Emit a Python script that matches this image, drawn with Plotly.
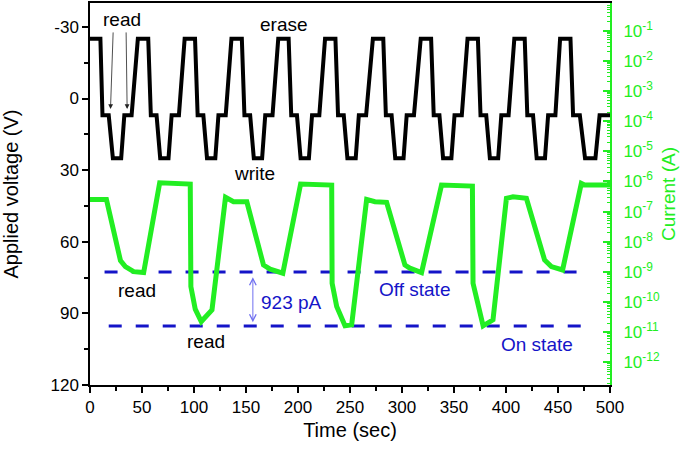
"""Applied voltage pulses and read current vs time (dual axis)."""

import plotly.graph_objects as go

# applied voltage waveform (V) vs time (sec)
time_v = [0, 10, 12, 18, 22, 30, 33, 40,
          46, 56, 58.5, 64, 67.5, 75.5, 78.5, 85.5,
          91, 101, 103.5, 109, 112.5, 120.5, 123.5, 130.5,
          136, 146, 148.5, 154, 157.5, 165.5, 168.5, 175.5,
          181, 191, 193.5, 199, 202.5, 210.5, 213.5, 220.5,
          226, 236, 238.5, 244, 247.5, 255.5, 258.5, 265.5,
          272, 282, 284.5, 290, 293.5, 301.5, 304.5, 311.5,
          318, 328, 330.5, 336, 339.5, 347.5, 350.5, 357.5,
          363, 373, 375.5, 381, 384.5, 392.5, 395.5, 402.5,
          408, 418, 420.5, 426, 429.5, 437.5, 440.5, 447.5,
          452, 462, 464.5, 471, 476, 486, 490, 500]
voltage = [-25, -25, 7, 7, 25, 25, 7, 7,
           -25, -25, 7, 7, 25, 25, 7, 7,
           -25, -25, 7, 7, 25, 25, 7, 7,
           -25, -25, 7, 7, 25, 25, 7, 7,
           -25, -25, 7, 7, 25, 25, 7, 7,
           -25, -25, 7, 7, 25, 25, 7, 7,
           -25, -25, 7, 7, 25, 25, 7, 7,
           -25, -25, 7, 7, 25, 25, 7, 7,
           -25, -25, 7, 7, 25, 25, 7, 7,
           -25, -25, 7, 7, 25, 25, 7, 7,
           -25, -25, 7, 7, 25, 25, 7, 7]

# measured current (A) vs time (sec)
time_i = [0, 15.8, 29.3, 34, 42, 51.6, 67, 96.4, 97, 101.2, 107, 117.3,
          130.3, 138, 150.8, 166.8, 173.2, 185.4, 202.5, 232.4, 232.8, 237.2,
          245.2, 251.6, 266, 274, 285.2, 302.8, 307.6, 318.8, 338, 367.7,
          368.3, 373, 378, 387.5, 400.4, 406.7, 419.6, 437.1, 443.6, 454.4,
          472.4, 475.5, 500]
current = [2.55e-7, 2.55e-7, 2.37e-9, 1.5e-9, 1.02e-9, 9.5e-10,
           9.06e-7, 8.2e-7, 3.26e-10, 5.8e-11, 2.26e-11, 5.5e-11,
           2.98e-7, 2.13e-7, 2.13e-7, 1.7e-9, 1.23e-9, 9.1e-10,
           8.2e-7, 7.6e-7, 4.2e-10, 7.1e-11, 1.63e-11, 1.76e-11,
           2.55e-7, 2.13e-7, 2.03e-7, 1.7e-9, 1.33e-9, 9.5e-10,
           7.6e-7, 7.05e-7, 4.2e-10, 9.2e-11, 1.63e-11, 2.58e-11,
           2.75e-7, 3.1e-7, 2.75e-7, 2.5e-9, 1.5e-9, 1.16e-9,
           8.65e-7, 7.6e-7, 7.6e-7]

# off / on state reference levels
off_x = [14, 474]
off_level = [1e-9, 1e-9]
on_x = [18, 478]
on_level = [1.6e-11, 1.6e-11]

left_ticks = [-30, 0, 30, 60, 90, 120]
left_labels = ["-30", "0", "30", "60", "90", "120"]
right_ticks = [1e-1, 1e-2, 1e-3, 1e-4, 1e-5, 1e-6,
               1e-7, 1e-8, 1e-9, 1e-10, 1e-11, 1e-12]
right_labels = ["10<sup>-%d</sup>" % n for n in range(1, 13)]
right_minor = [k * 10.0 ** -n for n in range(1, 14) for k in range(2, 10)]

FONT = "Arial, Liberation Sans, sans-serif"
GREEN = "#22EE22"
BLUE = "#1414C8"

fig = go.Figure()

fig.add_trace(go.Scatter(x=off_x, y=off_level, yaxis="y2", mode="lines",
                         line=dict(color=BLUE, width=3, dash="13px,14px")))
fig.add_trace(go.Scatter(x=on_x, y=on_level, yaxis="y2", mode="lines",
                         line=dict(color=BLUE, width=3, dash="13px,14px")))
fig.add_trace(go.Scatter(x=time_i, y=current, yaxis="y2", mode="lines",
                         line=dict(color=GREEN, width=5)))
fig.add_trace(go.Scatter(x=time_v, y=voltage, mode="lines",
                         line=dict(color="black", width=4)))

annotations = [
    dict(x=31, y=-33.2, text="read"),
    dict(x=186.5, y=-30.8, text="erase"),
    dict(x=158.5, y=31.4, text="write"),
    dict(x=45, y=80.5, text="read"),
    dict(x=112, y=101.7, text="read"),
    dict(x=194, y=85.4, text="923 pA", font=dict(color=BLUE)),
    dict(x=312, y=79.8, text="Off state", font=dict(color=BLUE)),
    dict(x=429.5, y=103, text="On state", font=dict(color=BLUE)),
]
for a in annotations:
    a.update(xref="x", yref="y", showarrow=False,
             xanchor="center", yanchor="middle")
    a.setdefault("font", {})
    a["font"] = dict(family=FONT, size=19, color=a["font"].get("color", "black"))

# arrows pointing to the read pulses
for tail, head in [((22.3, -28.3), (19.7, 4.4)), ((34.7, -28.3), (35.7, 4.4))]:
    annotations.append(dict(x=head[0], y=head[1], ax=tail[0], ay=tail[1],
                            xref="x", yref="y", axref="x", ayref="y",
                            text="", showarrow=True, arrowhead=2,
                            arrowsize=1.2, arrowwidth=0.8, arrowcolor="#222"))
# double arrow between off and on levels
annotations.append(dict(x=156.6, y=93.7, ax=156.6, ay=74.2,
                        xref="x", yref="y", axref="x", ayref="y",
                        text="", showarrow=True, arrowhead=5, startarrowhead=5,
                        arrowside="end+start", arrowsize=1.3,
                        arrowwidth=1, arrowcolor="#7070F0"))

fig.update_layout(
    width=685, height=451,
    margin=dict(l=90, r=75, t=3, b=66),
    paper_bgcolor="white", plot_bgcolor="white",
    showlegend=False,
    font=dict(family=FONT, size=17, color="black"),
    annotations=annotations,
    xaxis=dict(
        range=[0, 500], tickvals=list(range(0, 501, 50)),
        ticks="outside", ticklen=6, tickwidth=1.5, tickcolor="black",
        minor=dict(ticks="outside", ticklen=4, dtick=25, tickcolor="black",
                   tickwidth=1.5),
        showline=True, linecolor="black", linewidth=1.5, mirror=True,
        showgrid=False, zeroline=False, automargin=False,
        title=dict(text="Time (sec)", font=dict(size=20), standoff=7),
    ),
    yaxis=dict(
        range=[120, -40], tickvals=left_ticks, ticktext=left_labels,
        ticks="outside", ticklen=6, tickwidth=1.5, tickcolor="black",
        minor=dict(ticks="outside", ticklen=4, tickvals=[-15, 15, 45, 75, 105],
                   tickcolor="black", tickwidth=1.5),
        showline=True, linecolor="black", linewidth=1.5,
        showgrid=False, zeroline=False, automargin=False,
        title=dict(text="Applied voltage (V)", font=dict(size=20), standoff=26),
    ),
    yaxis2=dict(
        type="log", range=[-12.75, -0.08], overlaying="y", side="right",
        tickvals=right_ticks, ticktext=right_labels,
        ticks="inside", ticklen=7, tickwidth=1.5, tickcolor=GREEN,
        minor=dict(ticks="inside", ticklen=3.5, tickvals=right_minor,
                   tickcolor=GREEN, tickwidth=1),
        ticklabelstandoff=8,
        tickfont=dict(color=GREEN, size=17),
        showline=True, linecolor=GREEN, linewidth=2,
        showgrid=False, zeroline=False, automargin=False,
        title=dict(text="Current (A)", font=dict(size=19, color=GREEN),
                   standoff=3),
    ),
)

# the page body has a default 8px margin; drop it so the figure sits at 0,0
fig.write_html("out.html", config={"displayModeBar": False},
               post_script="document.body.style.margin = '0';")
